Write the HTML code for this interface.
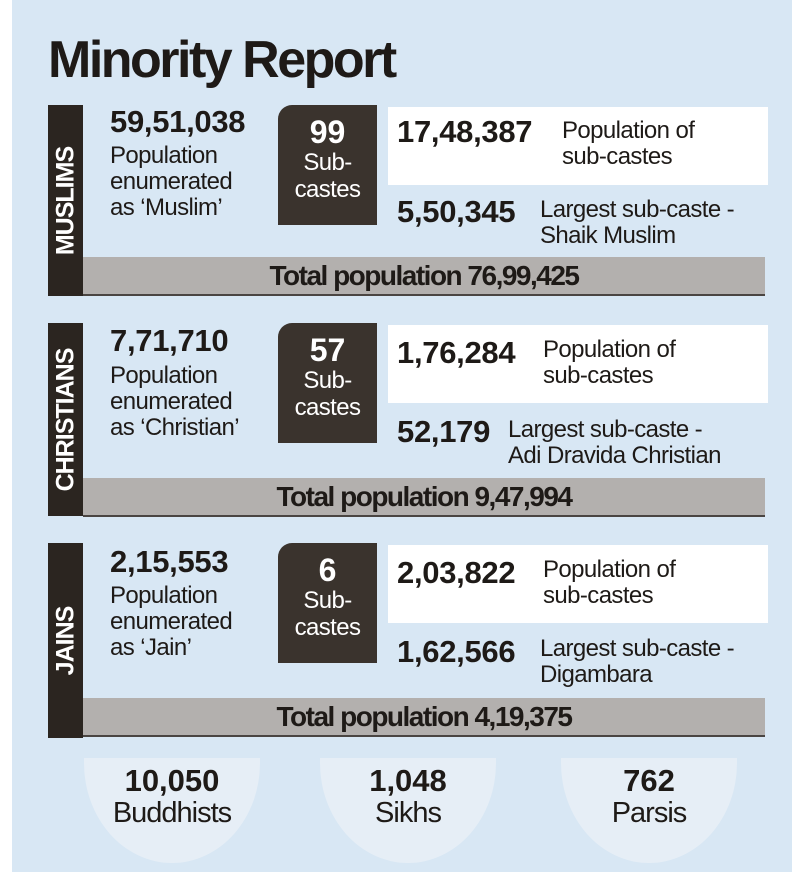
<!DOCTYPE html>
<html><head><meta charset="utf-8"><style>
body{margin:0;width:800px;height:885px;background:#fff;position:relative;overflow:hidden;font-family:"Liberation Sans",sans-serif;color:#1e1a17}
.a{position:absolute}
#panel{left:12px;top:0;width:780px;height:872px;background:#d8e7f4}
.title{left:48px;top:30px;font-size:52px;font-weight:bold;letter-spacing:-2.5px}
.side{left:48px;width:35px;background:#2b2520}
.side span{position:absolute;left:50%;top:50%;transform:translate(-50%,-50%) rotate(-90deg);color:#fff;font-weight:bold;font-size:25px;white-space:nowrap;letter-spacing:-1px}
.gray{left:83px;width:682px;height:37px;background:#b3b0ae;border-bottom:2px solid #4a4542;text-align:center;font-weight:bold;font-size:28px;line-height:38px;letter-spacing:-1.5px}
.big{font-size:31px;font-weight:bold;letter-spacing:-0.3px;line-height:32px;white-space:nowrap}
.lbl{font-size:24px;line-height:26px;letter-spacing:-0.6px;white-space:nowrap}
.box{left:278px;width:99px;height:120px;background:#3a332d;border-top-left-radius:14px;color:#fff;text-align:center}
.box b{display:block;font-size:32px;margin-top:10px;line-height:34px}
.box i{display:block;font-style:normal;font-size:24px;line-height:27px;letter-spacing:-0.6px}
.white{left:388px;width:380px;height:78px;background:#fff}
.shield{width:176px;height:105px;background:#e6eef6;border-radius:0 0 88px 88px/0 0 100px 100px;text-align:center}
.shield b{display:block;font-size:31px;margin-top:6px;line-height:34px}
.shield i{display:block;font-style:normal;font-size:29px;letter-spacing:-1px;line-height:30px}
</style></head><body>
<div id="panel" class="a"></div>
<div class="a title">Minority Report</div>

<div class="a side" style="top:105px;height:191px"><span>MUSLIMS</span></div>
<div class="a big" style="left:110px;top:106px">59,51,038</div>
<div class="a lbl" style="left:110px;top:143px">Population<br>enumerated<br>as ‘Muslim’</div>
<div class="a box" style="top:105px"><b>99</b><i>Sub-<br>castes</i></div>
<div class="a white" style="top:107px"></div>
<div class="a big" style="left:397px;top:116px">17,48,387</div>
<div class="a lbl" style="left:562px;top:118px">Population of<br>sub-castes</div>
<div class="a big" style="left:397px;top:196px">5,50,345</div>
<div class="a lbl" style="left:540px;top:197px">Largest sub-caste -<br>Shaik Muslim</div>
<div class="a gray" style="top:257px">Total population 76,99,425</div>

<div class="a side" style="top:323px;height:193px"><span>CHRISTIANS</span></div>
<div class="a big" style="left:110px;top:325px">7,71,710</div>
<div class="a lbl" style="left:110px;top:363px">Population<br>enumerated<br>as ‘Christian’</div>
<div class="a box" style="top:323px"><b>57</b><i>Sub-<br>castes</i></div>
<div class="a white" style="top:325px"></div>
<div class="a big" style="left:397px;top:337px">1,76,284</div>
<div class="a lbl" style="left:543px;top:337px">Population of<br>sub-castes</div>
<div class="a big" style="left:397px;top:416px">52,179</div>
<div class="a lbl" style="left:508px;top:417px">Largest sub-caste -<br>Adi Dravida Christian</div>
<div class="a gray" style="top:478px">Total population 9,47,994</div>

<div class="a side" style="top:543px;height:195px"><span>JAINS</span></div>
<div class="a big" style="left:110px;top:546px">2,15,553</div>
<div class="a lbl" style="left:110px;top:583px">Population<br>enumerated<br>as ‘Jain’</div>
<div class="a box" style="top:543px"><b>6</b><i>Sub-<br>castes</i></div>
<div class="a white" style="top:545px"></div>
<div class="a big" style="left:397px;top:557px">2,03,822</div>
<div class="a lbl" style="left:543px;top:557px">Population of<br>sub-castes</div>
<div class="a big" style="left:397px;top:636px">1,62,566</div>
<div class="a lbl" style="left:540px;top:636px">Largest sub-caste -<br>Digambara</div>
<div class="a gray" style="top:698px">Total population 4,19,375</div>

<div class="a shield" style="left:84px;top:758px"><b>10,050</b><i>Buddhists</i></div>
<div class="a shield" style="left:320px;top:758px"><b>1,048</b><i>Sikhs</i></div>
<div class="a shield" style="left:561px;top:758px"><b>762</b><i>Parsis</i></div>
</body></html>
